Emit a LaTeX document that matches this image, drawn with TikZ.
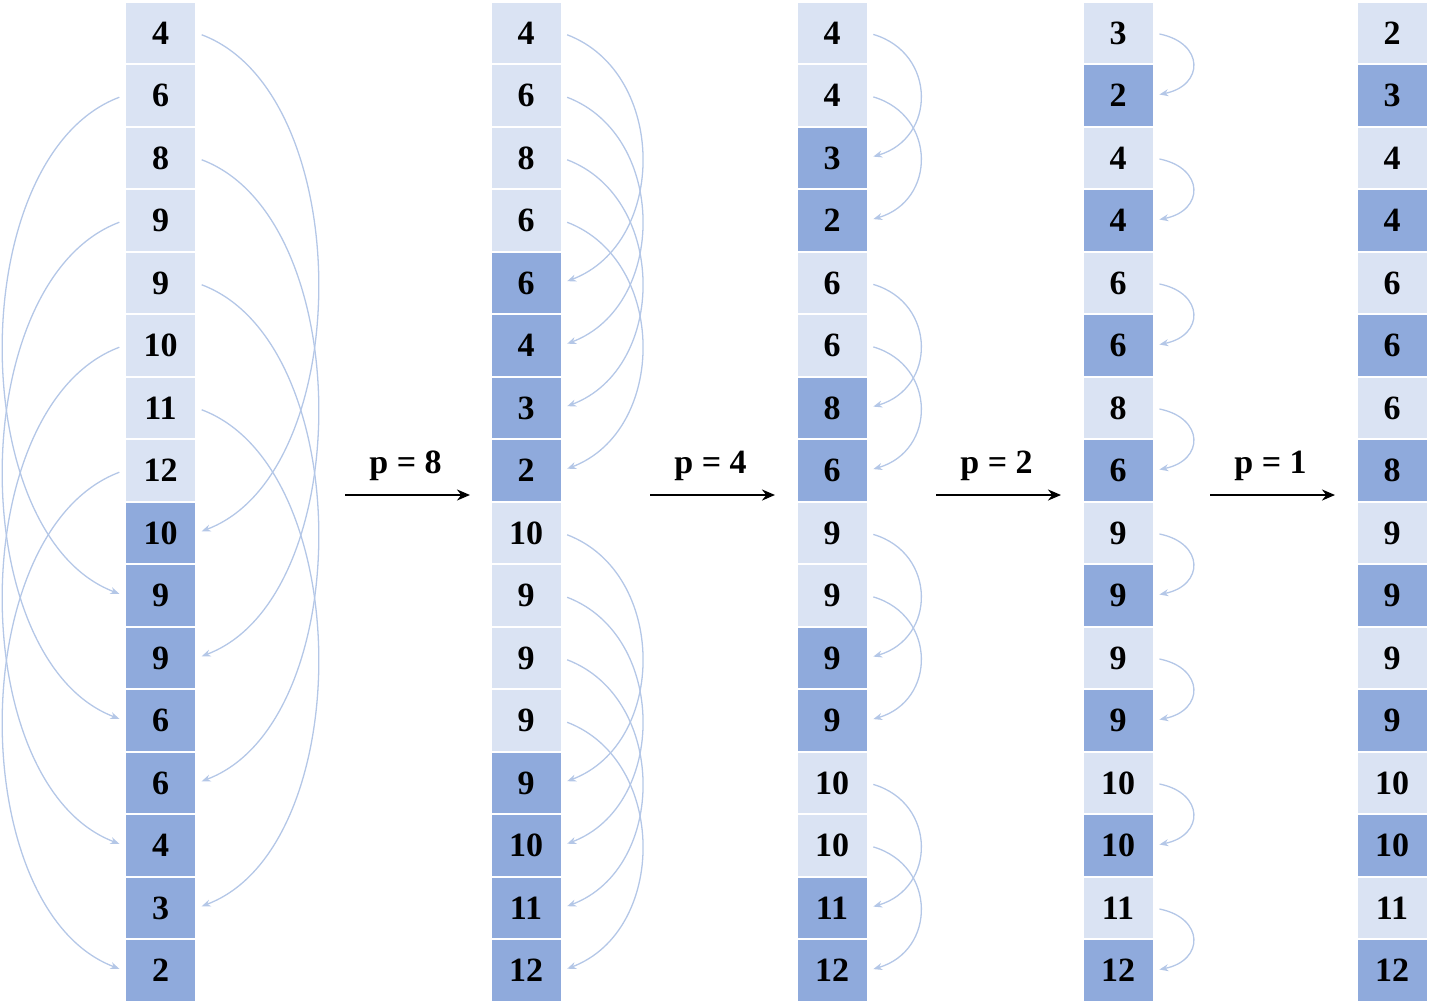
\documentclass[tikz,border=0pt]{standalone}
\usepackage{fontspec}
\setmainfont{Liberation Serif}
\usetikzlibrary{arrows.meta}
\definecolor{lt}{HTML}{DAE3F3}
\definecolor{dk}{HTML}{8FAADC}
\definecolor{ln}{HTML}{B4C7E7}
\begin{document}
\begin{tikzpicture}[x=1pt,y=-1pt,
  cell/.style={draw=white,line width=2pt,minimum width=71pt,minimum height=62.5pt,inner sep=0pt,font=\fontsize{34}{36}\selectfont\bfseries},
  arr/.style={ln,line width=1.3pt,-{Stealth[length=9pt,width=7pt]},shorten <=5pt,shorten >=5pt},
  bigarr/.style={black,line width=2.5pt,-{Stealth[length=13pt,width=11pt]}},
  plab/.style={font=\fontsize{34}{36}\selectfont\bfseries,inner sep=0pt}]
\useasboundingbox (0,0) rectangle (1430,1002);
% columns: index/x/values/shading pattern (1=dark)
\foreach \v [count=\i from 0] in {4,6,8,9,9,10,11,12,10,9,9,6,6,4,3,2}{
  \pgfmathsetmacro\d{\i>7?1:0}
  \ifdim\d pt>0pt \def\fc{dk}\else\def\fc{lt}\fi
  \node[cell,fill=\fc] (a\i) at (160.5,{33+62.5*\i}) {\v};}
\foreach \v [count=\i from 0] in {4,6,8,6,6,4,3,2,10,9,9,9,9,10,11,12}{
  \pgfmathsetmacro\d{mod(floor(\i/4),2)}
  \ifdim\d pt>0pt \def\fc{dk}\else\def\fc{lt}\fi
  \node[cell,fill=\fc] (b\i) at (526,{33+62.5*\i}) {\v};}
\foreach \v [count=\i from 0] in {4,4,3,2,6,6,8,6,9,9,9,9,10,10,11,12}{
  \pgfmathsetmacro\d{mod(floor(\i/2),2)}
  \ifdim\d pt>0pt \def\fc{dk}\else\def\fc{lt}\fi
  \node[cell,fill=\fc] (c\i) at (832,{33+62.5*\i}) {\v};}
\foreach \v [count=\i from 0] in {3,2,4,4,6,6,8,6,9,9,9,9,10,10,11,12}{
  \pgfmathsetmacro\d{mod(\i,2)}
  \ifdim\d pt>0pt \def\fc{dk}\else\def\fc{lt}\fi
  \node[cell,fill=\fc] (d\i) at (1118,{33+62.5*\i}) {\v};}
\foreach \v [count=\i from 0] in {2,3,4,4,6,6,6,8,9,9,9,9,10,10,11,12}{
  \pgfmathsetmacro\d{mod(\i,2)}
  \ifdim\d pt>0pt \def\fc{dk}\else\def\fc{lt}\fi
  \node[cell,fill=\fc] (e\i) at (1392,{33+62.5*\i}) {\v};}
% arrows column 1
\foreach \i in {0,2,4,6}{
  \pgfmathtruncatemacro\j{\i+8}
  \draw[arr] (a\i.east) .. controls +(160,60) and +(160,-60) .. (a\j.east);}
\foreach \i in {1,3,5,7}{
  \pgfmathtruncatemacro\j{\i+8}
  \draw[arr] (a\i.west) .. controls +(-160,60) and +(-160,-60) .. (a\j.west);}
% column 2
\foreach \i in {0,1,2,3,8,9,10,11}{
  \pgfmathtruncatemacro\j{\i+4}
  \draw[arr] (b\i.east) .. controls +(105,40) and +(105,-40) .. (b\j.east);}
% column 3
\foreach \i in {0,1,4,5,8,9,12,13}{
  \pgfmathtruncatemacro\j{\i+2}
  \draw[arr] (c\i.east) .. controls +(68,20) and +(68,-20) .. (c\j.east);}
% column 4
\foreach \i in {0,2,4,6,8,10,12,14}{
  \pgfmathtruncatemacro\j{\i+1}
  \draw[arr] (d\i.east) .. controls +(50,10) and +(50,-10) .. (d\j.east);}
% step arrows
\foreach \n/\xa/\xb/\p in {s1/345/470/8,s2/650/775/4,s3/936/1061/2,s4/1210/1335/1}{
  \coordinate (\n a) at (\xa,495);
  \coordinate (\n b) at (\xb,495);
  \draw[bigarr] (\n a) -- (\n b);
  \node[plab] (\n l) at ({(\xa+\xb)/2-2},466) {p = \p};}
\end{tikzpicture}
\end{document}
